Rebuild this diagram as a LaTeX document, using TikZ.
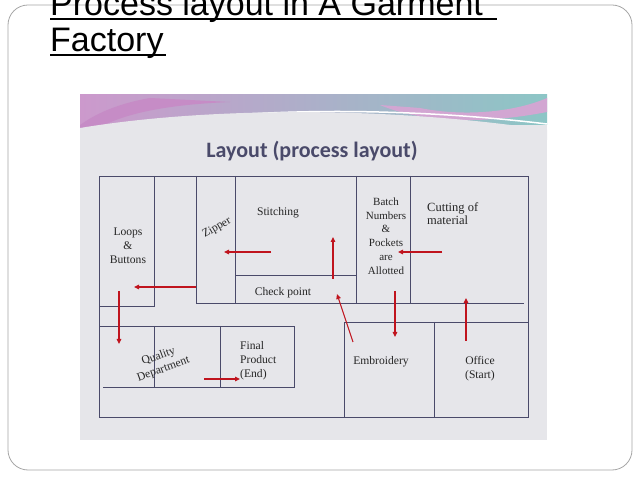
\documentclass[tikz,border=0pt]{standalone}
\usepackage{fontspec}
\setmainfont{Liberation Serif}
\newfontfamily\arialf{Liberation Sans}
\newfontfamily\calf{Carlito}
\usetikzlibrary{arrows.meta}
\definecolor{wall}{HTML}{4A4A6A}
\definecolor{flow}{HTML}{C0141E}
\definecolor{panel}{HTML}{E6E6EA}
\tikzset{
  wall/.style={draw=wall,line width=0.9pt},
  flowarrow/.style={draw=flow,line width=1.1pt,-{Triangle[length=5pt,width=4.5pt]}},
  lbl/.style={font=\fontsize{11.6}{14}\selectfont,align=center,inner sep=0pt,text=black!85},
  ttl/.style={anchor=base west,inner sep=0pt,font=\arialf\fontsize{34}{40}\selectfont},
}
\begin{document}
\begin{tikzpicture}[x=1pt,y=-1pt]
\useasboundingbox (0,0) rectangle (638,478);
\fill[white] (0,0) rectangle (638,478);
% slide frame
\draw[gray!70,line width=0.8pt,rounded corners=20pt] (8,5) rectangle (632,470);
% slide title
\node[ttl] (t1) at (50,16) {Process layout in A Garment};
\node[ttl] (t2) at (50,52) {Factory};
\draw[line width=1.6pt] (50,19) -- (497,19);
\draw[line width=1.6pt] (50,55) -- (166,55);
% picture panel
\fill[panel] (80,95) rectangle (547,440);
\fill[left color=violet!40,right color=teal!45] (80,95) rectangle (547,125);
\fill[violet!45] (80,140) .. controls (110,115) and (160,105) .. (230,102) -- (150,98) .. controls (110,105) and (90,118) .. (80,125) -- cycle;
\fill[violet!35] (547,112) .. controls (480,125) and (420,122) .. (380,105) -- (420,108) .. controls (470,118) and (520,110) .. (547,98) -- cycle;
\draw[white,line width=1.5pt] (90,136) .. controls (200,108) and (380,104) .. (547,124);
\fill[panel] (80,128) .. controls (200,108) and (380,105) .. (547,130) -- (547,140) -- (80,140) -- cycle;
\node[font=\calf\bfseries\fontsize{22}{24}\selectfont,text=wall] (lt) at (312,151) {Layout (process layout)};
% walls
\draw[wall] (99,176) rectangle (528,417);
\draw[wall] (154,176) -- (154,306) -- (99,306);
\draw[wall] (196,176) -- (196,303) -- (524,303);
\draw[wall] (235,176) -- (235,303);
\draw[wall] (356,176) -- (356,303);
\draw[wall] (410,176) -- (410,303);
\draw[wall] (235,275) -- (356,275);
\draw[wall] (344,417) -- (344,322) -- (528,322);
\draw[wall] (434,322) -- (434,417);
\draw[wall] (99,326) -- (294,326) -- (294,387) -- (103,387);
\draw[wall] (154,326) -- (154,387);
\draw[wall] (220,326) -- (220,387);
% labels
\node[lbl] (loops) at (128,246) {Loops\\\&\\Buttons};
\node[lbl,rotate=30] (zip) at (217,228) {Zipper};
\node[lbl] (stitch) at (278,213) {Stitching};
\node[lbl] (check) at (283,293) {Check point};
\node[lbl,font=\fontsize{11}{13.8}\selectfont] (batch) at (386,236) {Batch\\Numbers\\\&\\Pockets\\are\\Allotted};
\node[lbl,align=left,anchor=north west,font=\fontsize{12.5}{13}\selectfont] (cut) at (427,203) {Cutting of\\material};
\node[lbl,rotate=20] (qual) at (161,363) {Quality\\Department};
\node[lbl,align=left,anchor=north west] (final) at (240,341) {Final\\Product\\(End)};
\node[lbl] (emb) at (381,362) {Embroidery};
\node[lbl] (office) at (480,369) {Office\\(Start)};
% flow
\coordinate (a1) at (271,252); \coordinate (a2) at (224,252);
\draw[flowarrow] (a1) -- (a2);
\coordinate (b1) at (196,287); \coordinate (b2) at (134,287);
\draw[flowarrow] (b1) -- (b2);
\coordinate (c1) at (119,291); \coordinate (c2) at (119,344);
\draw[flowarrow] (c1) -- (c2);
\coordinate (d1) at (204,379); \coordinate (d2) at (240,379);
\draw[flowarrow] (d1) -- (d2);
\coordinate (e1) at (333,279); \coordinate (e2) at (333,237);
\draw[flowarrow] (e1) -- (e2);
\coordinate (f1) at (353,342); \coordinate (f2) at (337,294);
\draw[flowarrow] (f1) -- (f2);
\coordinate (g1) at (395,291); \coordinate (g2) at (395,337);
\draw[flowarrow] (g1) -- (g2);
\coordinate (h1) at (442,252); \coordinate (h2) at (398,252);
\draw[flowarrow] (h1) -- (h2);
\coordinate (i1) at (466,341); \coordinate (i2) at (466,298);
\draw[flowarrow] (i1) -- (i2);
\end{tikzpicture}
\end{document}
